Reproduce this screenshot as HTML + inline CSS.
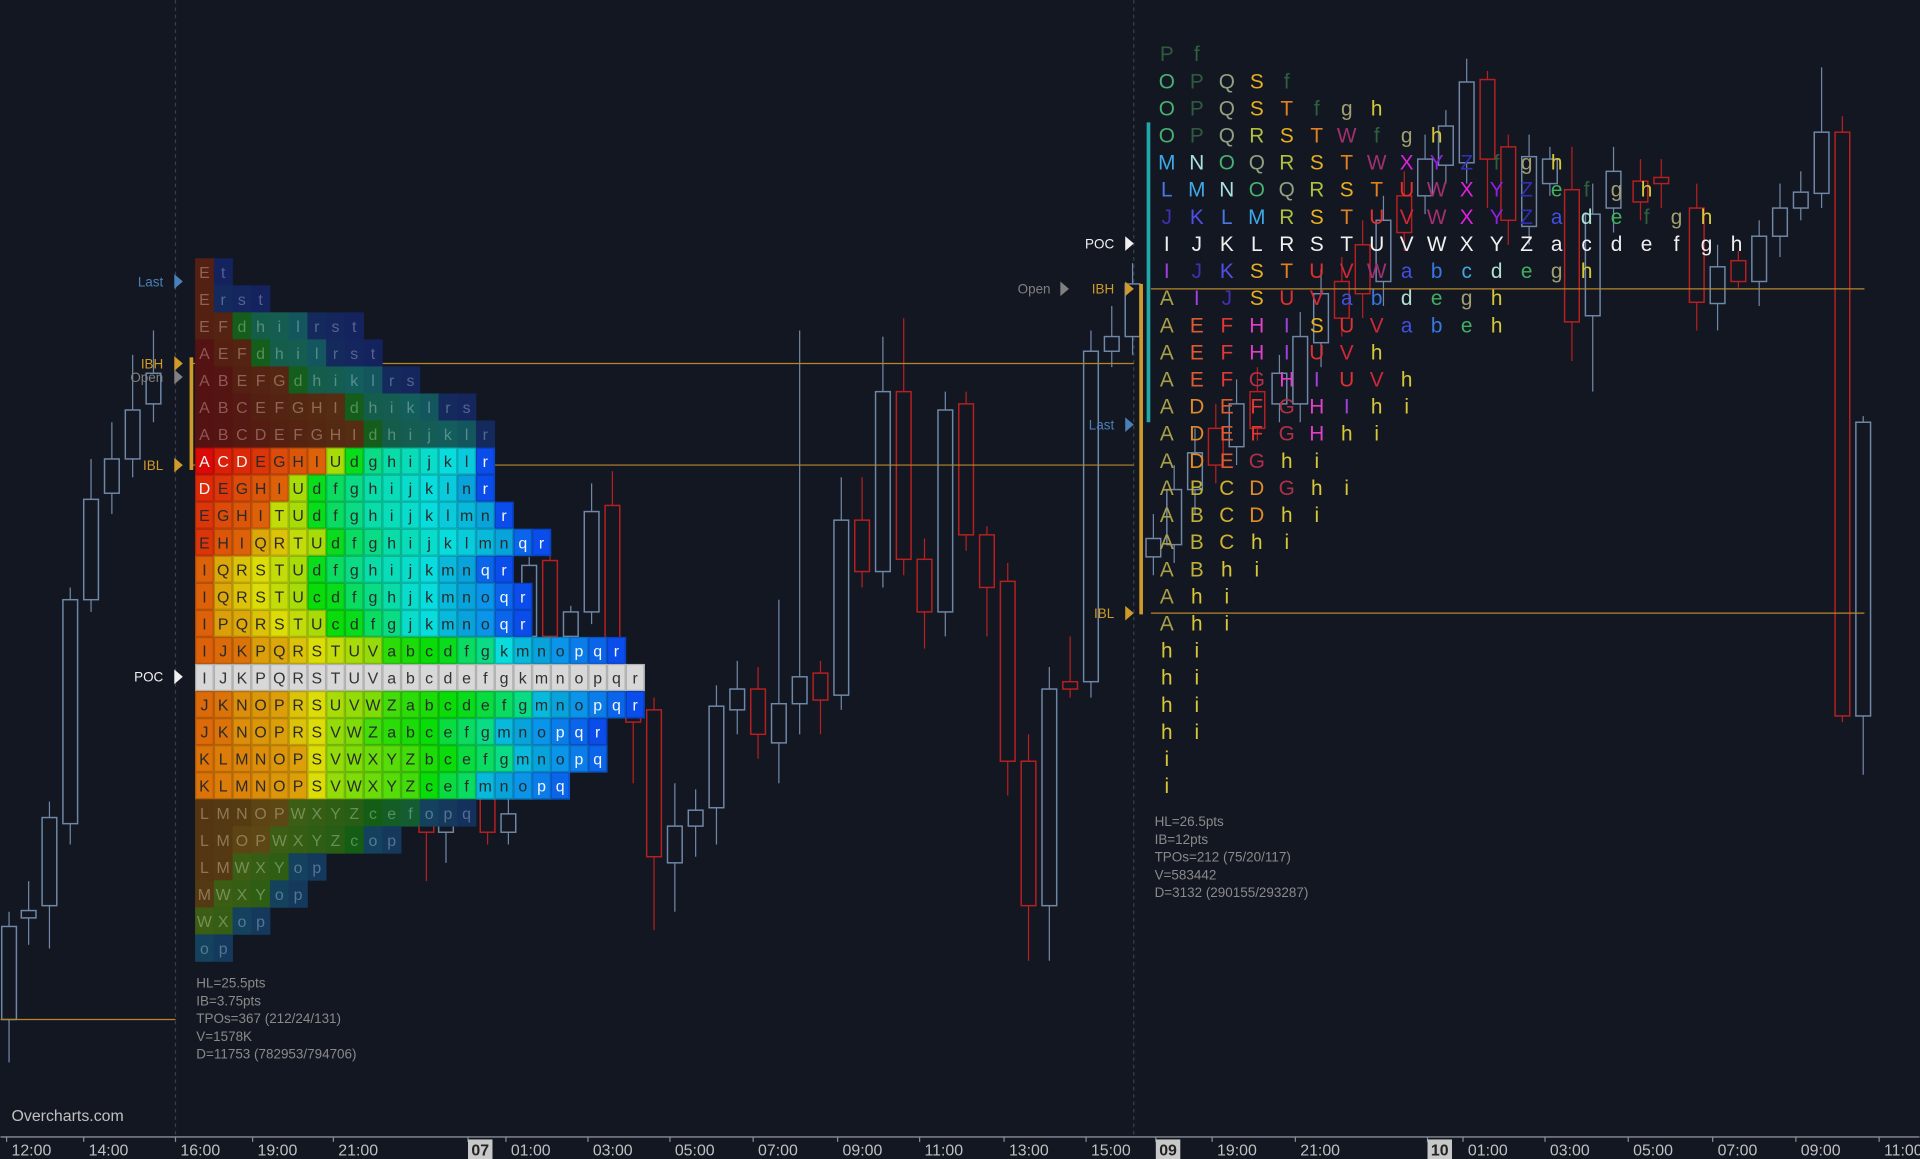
<!DOCTYPE html>
<html><head><meta charset="utf-8">
<style>
html,body{margin:0;padding:0;background:#131722;overflow:hidden}
svg{display:block}
text{font-family:"Liberation Sans","DejaVu Sans",sans-serif}
</style></head>
<body>
<svg id="s" width="1920" height="1159" viewBox="0 0 1568 947" xmlns="http://www.w3.org/2000/svg">
<rect width="1568" height="947" fill="#131722"/>
<line x1="143" y1="0" x2="143" y2="928" stroke="#3a3f4c" stroke-dasharray="3,3"/>
<line x1="926" y1="0" x2="926" y2="928" stroke="#3a3f4c" stroke-dasharray="3,3"/>
<g id="candles"></g>
<g id="lp"></g>
<g id="rp"></g>
<g id="ov"></g>
</svg>
<script>
var NS="http://www.w3.org/2000/svg";
function el(p,t,a,txt){var e=document.createElementNS(NS,t);for(var k in a)e.setAttribute(k,a[k]);if(txt!=null)e.textContent=txt;p.appendChild(e);return e;}
var C=document.getElementById('candles');
var cd=[
[7,757,833,745,868,1],[23,744,750,720,772,1],[40,668,740,655,775,1],[57,490,673,480,690,1],[74,408,490,375,500,1],[91,375,403,345,420,1],[108,335,375,290,390,1],[125,305,330,270,345,1],
[175,340,380,310,400,0],[200,352,385,330,400,0],[220,330,360,310,380,0],[250,345,370,320,385,1],[270,345,355,330,370,0],[300,350,365,320,380,0],[330,380,420,360,440,0],
[348,630,680,610,720,0],[364,655,680,640,705,1],[398,640,680,625,690,0],[415,665,680,650,690,1],
[432,462,520,455,530,1],[449,458,520,450,530,0],[466,500,520,495,530,1],[483,418,500,395,510,1],[500,413,545,385,560,0],[517,560,590,555,640,0],
[534,580,700,570,760,0],[551,675,705,640,745,1],[568,662,675,645,700,1],[585,577,660,560,690,1],[602,563,580,540,600,1],[619,563,600,545,620,0],
[636,575,607,490,640,1],[653,553,575,270,600,1],[670,550,572,540,600,0],[687,425,568,390,580,1],[704,425,467,390,480,0],[721,320,467,275,480,1],
[738,320,457,260,470,0],[755,457,500,440,530,0],[772,335,500,320,520,1],[789,330,437,320,450,0],[806,437,480,430,520,0],[823,475,622,460,650,0],
[840,622,740,600,785,0],[857,563,740,545,785,1],[874,557,563,520,570,0],[891,287,557,270,570,1],[908,275,287,250,300,1],[925,232,275,215,290,1],
[942,440,455,420,470,1],[959,400,445,380,460,1],[976,370,400,350,420,1],[993,350,380,330,395,0],[1010,330,365,310,380,1],[1027,320,350,300,360,0],
[1045,305,330,290,345,1],[1062,275,330,255,345,1],[1079,240,280,220,300,1],[1096,230,260,210,275,0],[1113,200,240,180,260,0],[1130,180,230,160,250,1],
[1147,160,190,140,205,0],[1164,130,160,110,175,1],[1181,103,135,90,150,1],[1198,67,133,48,150,1],[1215,65,130,58,170,0],[1232,120,180,110,200,0],
[1249,128,185,110,200,1],[1266,130,150,120,160,1],[1284,155,263,120,295,0],[1301,175,258,150,320,1],[1318,140,170,120,190,1],[1340,148,165,130,180,0],
[1357,145,150,130,170,0],[1386,170,247,150,270,0],[1403,218,248,200,270,1],[1420,213,230,205,235,0],[1437,193,230,180,250,1],[1454,170,193,150,210,1],
[1471,157,170,140,180,1],[1488,108,158,55,170,1],[1505,108,585,95,590,0],[1522,345,585,340,633,1]
];
cd.forEach(function(c){var col=c[5]?'#7088a8':'#b82020';
el(C,'line',{x1:c[0],x2:c[0],y1:c[3],y2:c[4],stroke:col,'stroke-width':1});
el(C,'rect',{x:c[0]-6,y:c[1],width:12,height:Math.max(2,c[2]-c[1]),fill:'#131722',stroke:col,'stroke-width':1.2});});
el(C,'line',{x1:0,x2:143,y1:833,y2:833,stroke:'#b8862a'});
el(C,'line',{x1:155,x2:926,y1:297,y2:297,stroke:'#b8862a'});
el(C,'line',{x1:155,x2:926,y1:380,y2:380,stroke:'#b8862a'});
el(C,'line',{x1:940,x2:1523,y1:236,y2:236,stroke:'#b8862a'});
el(C,'line',{x1:940,x2:1523,y1:501,y2:501,stroke:'#b8862a'});

var ord="ABCDEFGHIJKLMNOPQRSTUVWXYZabcdefghijklmnopqrst";
var kp=[[0,0],[8,25],[16,45],[20,75],[26,110],[29,125],[33,165],[38,190],[43,222],[45,228]];
function hue(i){for(var k=1;k<kp.length;k++){if(i<=kp[k][0]){var a=kp[k-1],b=kp[k];return a[1]+(b[1]-a[1])*(i-a[0])/(b[0]-a[0]);}}return 228;}
var L=document.getElementById('lp');
var rows=["Et","Erst","EFdhilrst","AEFdhilrst","ABEFGdhiklrs","ABCEFGHIdhiklrs","ABCDEFGHIdhijklr","ACDEGHIUdghijklr","DEGHIUdfghijklnr","EGHITUdfghijklmnr","EHIQRTUdfghijklmnqr","IQRSTUdfghijkmnqr","IQRSTUcdfghjkmnoqr","IPQRSTUcdfgjkmnoqr","IJKPQRSTUVabcdfgkmnopqr","IJKPQRSTUVabcdefgkmnopqr","JKNOPRSUVWZabcdefgmnopqr","JKNOPRSVWZabcefgmnopqr","KLMNOPSVWXYZbcefgmnopq","KLMNOPSVWXYZcefmnopq","LMNOPWXYZcefopq","LMOPWXYZcop","LMWXYop","MWXYop","WXop","op"];
var cw=15.3,rh=22.1,y0=211;
rows.forEach(function(r,i){var y=y0+i*rh;var va=(i>=7&&i<=19);var poc=(i==15);
for(var j=0;j<r.length;j++){var ch=r[j];var idx=ord.indexOf(ch);var h=hue(idx);var x=159+j*cw;var fill,tc;
if(poc){fill='#d8d8d8';tc='#333';}
else if(va){fill='hsl('+h+',92%,'+(h>200?48:45)+'%)';tc=(h<12||h>205)?'#f4f4f4':'#2a2a2a';}
else{fill='hsl('+h+',65%,'+(h<40?20:22)+'%)';tc='hsl('+h+',25%,45%)';}
el(L,'rect',{x:x,y:y,width:cw+0.3,height:rh+0.3,fill:fill});
if(va||poc)el(L,'rect',{x:x+0.5,y:y+0.5,width:cw-1,height:rh-1,fill:'none',stroke:'rgba(0,0,0,0.18)'});
el(L,'text',{x:x+cw/2,y:y+16,'font-size':13,'text-anchor':'middle',fill:tc},ch);}});

var R=document.getElementById('rp');
var col={A:'#a8a048',B:'#c0b038',C:'#d0b030',D:'#e08a28',E:'#e05a30',F:'#e03838',G:'#b03048',H:'#e040c8',I:'#a040e0',J:'#4030b0',K:'#5050e8',L:'#4878e8',M:'#40a8e8',N:'#a8e0e0',O:'#48b070',P:'#2f5a40',Q:'#90a080',R:'#b0c040',S:'#e8b020',T:'#e08020',U:'#e03030',V:'#d02838',W:'#a03070',X:'#e020e0',Y:'#9020e0',Z:'#3030b0',a:'#4050e0',b:'#3878e0',c:'#40a8e0',d:'#b0e0d0',e:'#40b060',f:'#2f6040',g:'#a0a070',h:'#d8c838',i:'#d8c838'};
var rr=["Pf","OPQSf","OPQSTfgh","OPQRSTWfgh","MNOQRSTWXYZfgh","LMNOQRSTUWXYZefgh","JKLMRSTUVWXYZadefgh","IJKLRSTUVWXYZacdefgh","IJKSTUVWabcdegh","AIJSUVabdegh","AEFHISUVabeh","AEFHIUVh","AEFGHIUVh","ADEFGHIhi","ADEFGHhi","ADEGhi","ABCDGhi","ABCDhi","ABChi","ABhi","Ahi","Ahi","hi","hi","hi","hi","i","i"];
rr.forEach(function(r,i){var y=50+i*22.15;for(var j=0;j<r.length;j++){var ch=r[j];
el(R,'text',{x:953+j*24.5,y:y,'font-size':17,'text-anchor':'middle',fill:(i==7?'#f0f0f0':col[ch])},ch);}});

var O=document.getElementById('ov');
el(O,'rect',{x:154.5,y:292,width:3,height:92,fill:'#d09a28'});
el(O,'rect',{x:930.5,y:232,width:3,height:270,fill:'#d09a28'});
el(O,'rect',{x:936.5,y:100,width:3,height:245,fill:'#20a8a8'});
function mk(x,y,label,c,lx){el(O,'polygon',{points:(x)+','+(y-6)+' '+(x+7)+','+y+' '+(x)+','+(y+6),fill:c});
el(O,'text',{x:lx,y:y+4,'font-size':11,'text-anchor':'end',fill:c},label);}
mk(142,230,'Last','#4a80b8',133);mk(142,297,'IBH','#d09a28',133);mk(142,308,'Open','#808080',133);mk(142,380,'IBL','#d09a28',133);mk(142,553,'POC','#f0f0f0',133);
mk(919,199,'POC','#f0f0f0',910);mk(866,236,'Open','#808080',858);mk(919,236,'IBH','#d09a28',910);mk(919,347,'Last','#4a80b8',910);mk(919,501,'IBL','#d09a28',910);
function st(x,y,arr){arr.forEach(function(t,i){el(O,'text',{x:x,y:y+i*14.5,'font-size':11,fill:'#8a8a8a'},t);});}
st(160,807,['HL=25.5pts','IB=3.75pts','TPOs=367 (212/24/131)','V=1578K','D=11753 (782953/794706)']);
st(943,675,['HL=26.5pts','IB=12pts','TPOs=212 (75/20/117)','V=583442','D=3132 (290155/293287)']);
el(O,'text',{x:9,y:916,'font-size':13,fill:'#c0c0c0'},'Overcharts.com');
el(O,'rect',{x:0,y:929,width:1568,height:18,fill:'#131722'});
el(O,'line',{x1:0,x2:1568,y1:929,y2:929,stroke:'#6a6e78','stroke-width':1.5});
var ax=[[5,'12:00'],[68,'14:00'],[143,'16:00'],[206,'19:00'],[272,'21:00'],[382,'07',1],[413,'01:00'],[480,'03:00'],[547,'05:00'],[615,'07:00'],[684,'09:00'],[751,'11:00'],[820,'13:00'],[887,'15:00'],[944,'09',1],[990,'19:00'],[1058,'21:00'],[1166,'10',1],[1195,'01:00'],[1262,'03:00'],[1330,'05:00'],[1399,'07:00'],[1467,'09:00'],[1535,'11:00']];
ax.forEach(function(a){el(O,'line',{x1:a[0],x2:a[0],y1:929,y2:933,stroke:'#8a8e98'});
if(a[2]){el(O,'rect',{x:a[0],y:931,width:20,height:16,fill:'#c8c8c8'});el(O,'text',{x:a[0]+10,y:944,'font-size':13,'font-weight':'bold','text-anchor':'middle',fill:'#222'},a[1]);}
else el(O,'text',{x:a[0]+4,y:944,'font-size':13,fill:'#c0c0c0'},a[1]);});
</script>
</body></html>
